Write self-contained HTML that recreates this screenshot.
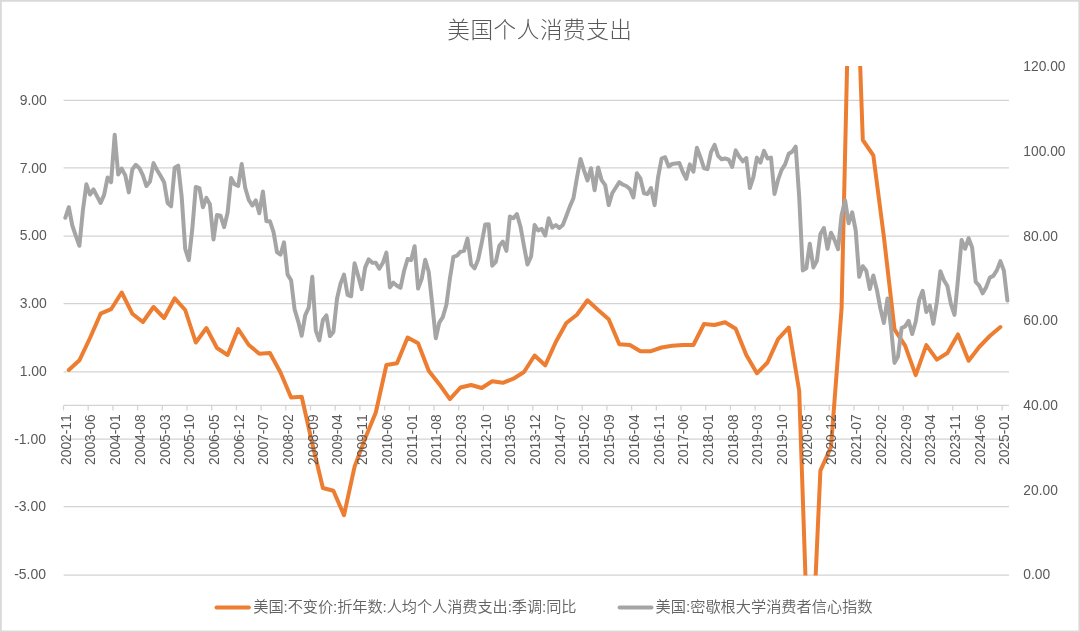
<!DOCTYPE html>
<html lang="zh-CN"><head><meta charset="utf-8"><title>美国个人消费支出</title>
<style>
html,body{margin:0;padding:0;background:#fff;}
body{width:1080px;height:632px;overflow:hidden;position:relative;font-family:"Liberation Sans","Noto Sans CJK SC",sans-serif;}
svg{display:block;position:absolute;left:0;top:0;}
.t{fill:#595959;}
.ax{font-family:"Liberation Sans","Noto Sans CJK SC",sans-serif;font-size:15.1px;font-kerning:none;fill:#595959;}
.xl{font-family:"Liberation Sans","Noto Sans CJK SC",sans-serif;font-size:13.8px;font-kerning:none;fill:#595959;}
.lg{font-family:"Liberation Sans","Noto Sans CJK SC",sans-serif;font-size:15.2px;font-weight:350;fill:#636363;}
.ti{font-family:"Liberation Sans","Noto Sans CJK SC",sans-serif;font-size:22.6px;font-weight:300;fill:#595959;}
</style></head><body>
<svg width="1080" height="632" viewBox="0 0 1080 632">
<rect x="0" y="0" width="1080" height="632" fill="#fff"/>
<path d="M0 0H1080V632H0Z M1.8 1.8V630.4H1078.4V1.8Z" fill="#d9d9d9" fill-rule="evenodd"/>
<text class="ti" x="539.9" y="38.0" text-anchor="middle" letter-spacing="0.55">美国个人消费支出</text>
<g stroke="#d3d3d3" stroke-width="1.25" fill="none">
<line x1="63.6" y1="100.40" x2="1009.0" y2="100.40"/>
<line x1="63.6" y1="167.90" x2="1009.0" y2="167.90"/>
<line x1="63.6" y1="236.00" x2="1009.0" y2="236.00"/>
<line x1="63.6" y1="303.50" x2="1009.0" y2="303.50"/>
<line x1="63.6" y1="371.80" x2="1009.0" y2="371.80"/>
<line x1="63.6" y1="439.00" x2="1009.0" y2="439.00"/>
<line x1="63.6" y1="506.70" x2="1009.0" y2="506.70"/>
<line x1="63.6" y1="575.00" x2="1009.0" y2="575.00"/>
</g>
<g stroke="#d3d3d3" stroke-width="1.25" fill="none">
<line x1="63.6" y1="405.40" x2="1009.0" y2="405.40"/>
<line x1="63.50" y1="405.40" x2="63.50" y2="410.40"/>
<line x1="88.20" y1="405.40" x2="88.20" y2="410.40"/>
<line x1="112.90" y1="405.40" x2="112.90" y2="410.40"/>
<line x1="137.60" y1="405.40" x2="137.60" y2="410.40"/>
<line x1="162.30" y1="405.40" x2="162.30" y2="410.40"/>
<line x1="187.01" y1="405.40" x2="187.01" y2="410.40"/>
<line x1="211.71" y1="405.40" x2="211.71" y2="410.40"/>
<line x1="236.41" y1="405.40" x2="236.41" y2="410.40"/>
<line x1="261.11" y1="405.40" x2="261.11" y2="410.40"/>
<line x1="285.81" y1="405.40" x2="285.81" y2="410.40"/>
<line x1="310.51" y1="405.40" x2="310.51" y2="410.40"/>
<line x1="335.21" y1="405.40" x2="335.21" y2="410.40"/>
<line x1="359.91" y1="405.40" x2="359.91" y2="410.40"/>
<line x1="384.61" y1="405.40" x2="384.61" y2="410.40"/>
<line x1="409.32" y1="405.40" x2="409.32" y2="410.40"/>
<line x1="434.02" y1="405.40" x2="434.02" y2="410.40"/>
<line x1="458.72" y1="405.40" x2="458.72" y2="410.40"/>
<line x1="483.42" y1="405.40" x2="483.42" y2="410.40"/>
<line x1="508.12" y1="405.40" x2="508.12" y2="410.40"/>
<line x1="532.82" y1="405.40" x2="532.82" y2="410.40"/>
<line x1="557.52" y1="405.40" x2="557.52" y2="410.40"/>
<line x1="582.22" y1="405.40" x2="582.22" y2="410.40"/>
<line x1="606.92" y1="405.40" x2="606.92" y2="410.40"/>
<line x1="631.63" y1="405.40" x2="631.63" y2="410.40"/>
<line x1="656.33" y1="405.40" x2="656.33" y2="410.40"/>
<line x1="681.03" y1="405.40" x2="681.03" y2="410.40"/>
<line x1="705.73" y1="405.40" x2="705.73" y2="410.40"/>
<line x1="730.43" y1="405.40" x2="730.43" y2="410.40"/>
<line x1="755.13" y1="405.40" x2="755.13" y2="410.40"/>
<line x1="779.83" y1="405.40" x2="779.83" y2="410.40"/>
<line x1="804.53" y1="405.40" x2="804.53" y2="410.40"/>
<line x1="829.23" y1="405.40" x2="829.23" y2="410.40"/>
<line x1="853.94" y1="405.40" x2="853.94" y2="410.40"/>
<line x1="878.64" y1="405.40" x2="878.64" y2="410.40"/>
<line x1="903.34" y1="405.40" x2="903.34" y2="410.40"/>
<line x1="928.04" y1="405.40" x2="928.04" y2="410.40"/>
<line x1="952.74" y1="405.40" x2="952.74" y2="410.40"/>
<line x1="977.44" y1="405.40" x2="977.44" y2="410.40"/>
<line x1="1002.14" y1="405.40" x2="1002.14" y2="410.40"/>
</g>
<defs><clipPath id="pc"><rect x="60" y="66" width="952" height="509.5"/></clipPath></defs>
<g clip-path="url(#pc)" fill="none" stroke-width="4" stroke-linejoin="round" stroke-linecap="round">
<path stroke="#ed7d31" d="M68.8 370.0 L79.4 360.3 L90.0 338.0 L100.6 313.7 L111.1 309.2 L121.7 292.5 L132.3 313.7 L142.9 322.0 L153.5 307.0 L164.1 318.0 L174.7 298.3 L185.2 310.0 L195.8 342.5 L206.4 328.0 L217.0 348.0 L227.6 355.0 L238.2 329.0 L248.8 345.0 L259.3 353.7 L269.9 353.0 L280.5 372.5 L291.1 397.5 L301.7 396.7 L312.3 443.8 L322.9 488.0 L333.4 490.8 L344.0 515.2 L354.6 466.6 L365.2 438.3 L375.8 412.5 L386.4 365.0 L397.0 363.3 L407.6 337.5 L418.1 343.3 L428.7 370.8 L439.3 384.2 L449.9 399.2 L460.5 387.5 L471.1 385.0 L481.7 388.0 L492.2 381.3 L502.8 382.8 L513.4 378.7 L524.0 372.0 L534.6 355.5 L545.2 365.3 L555.8 342.0 L566.3 323.0 L576.9 314.7 L587.5 300.3 L598.1 310.0 L608.7 319.2 L619.3 344.2 L629.9 345.0 L640.4 351.2 L651.0 351.2 L661.6 347.5 L672.2 345.8 L682.8 345.0 L693.4 345.0 L704.0 324.0 L714.6 325.0 L725.1 322.2 L735.7 328.7 L746.3 355.0 L756.9 373.3 L767.5 362.5 L778.1 339.2 L788.7 327.5 L799.2 391.0 L809.8 705.0 L820.4 470.6 L831.0 447.0 L841.6 308.0 L852.2 -160.0 L862.8 140.0 L873.3 155.3 L883.9 237.0 L894.5 329.3 L905.1 345.6 L915.7 375.2 L926.3 345.1 L936.9 359.6 L947.4 353.0 L958.0 334.4 L968.6 360.8 L979.2 347.0 L989.8 336.0 L1000.4 327.0"/>
<path stroke="#a5a5a5" d="M65.3 217.8 L68.8 207.2 L72.3 225.5 L75.9 236.1 L79.4 245.8 L82.9 210.2 L86.4 184.3 L90.0 194.5 L93.5 189.4 L97.0 196.2 L100.6 203.0 L104.1 194.9 L107.6 177.5 L111.1 182.2 L114.7 134.7 L118.2 174.6 L121.7 168.6 L125.3 175.4 L128.8 192.4 L132.3 169.5 L135.8 164.8 L139.4 168.2 L142.9 175.4 L146.4 186.0 L150.0 181.4 L153.5 163.1 L157.0 169.9 L160.5 175.8 L164.1 182.2 L167.6 203.0 L171.1 206.4 L174.7 167.8 L178.2 165.7 L181.7 197.0 L185.2 248.8 L188.8 260.2 L192.3 228.8 L195.8 186.9 L199.4 188.1 L202.9 207.2 L206.4 197.9 L209.9 204.3 L213.5 239.5 L217.0 214.9 L220.5 215.7 L224.1 227.2 L227.6 212.7 L231.1 178.0 L234.6 184.3 L238.2 186.0 L241.7 164.0 L245.2 187.7 L248.8 200.0 L252.3 205.5 L255.8 200.4 L259.3 213.2 L262.9 191.5 L266.4 221.2 L269.9 221.2 L273.5 231.8 L277.0 252.2 L280.5 254.7 L284.0 242.4 L287.6 274.6 L291.1 280.2 L294.6 309.4 L298.2 321.3 L301.7 335.7 L305.2 315.4 L308.7 307.7 L312.3 276.8 L315.8 330.6 L319.3 340.4 L322.9 320.0 L326.4 315.4 L329.9 336.1 L333.4 331.9 L337.0 298.8 L340.5 283.6 L344.0 274.6 L347.6 295.0 L351.1 296.3 L354.6 263.2 L358.1 275.5 L361.7 289.1 L365.2 267.4 L368.7 259.4 L372.3 262.8 L375.8 262.8 L379.3 268.7 L382.9 262.8 L386.4 252.6 L389.9 287.4 L393.4 282.7 L397.0 285.7 L400.5 287.8 L404.0 271.3 L407.6 259.0 L411.1 260.2 L414.6 246.2 L418.1 288.6 L421.7 278.9 L425.2 259.8 L428.7 271.7 L432.3 304.8 L435.8 338.3 L439.3 322.6 L442.8 317.1 L446.4 304.8 L449.9 278.5 L453.4 256.8 L457.0 255.6 L460.5 251.7 L464.0 250.9 L467.5 238.6 L471.1 264.5 L474.6 268.3 L478.1 259.8 L481.7 242.8 L485.2 224.6 L488.7 224.2 L492.2 265.7 L495.8 261.9 L499.3 245.8 L502.8 241.6 L506.4 250.9 L509.9 216.5 L513.4 218.2 L516.9 214.0 L520.5 226.7 L524.0 246.2 L527.5 264.5 L531.1 256.4 L534.6 225.0 L538.1 230.5 L541.6 228.8 L545.2 235.6 L548.7 218.2 L552.2 227.6 L555.8 225.0 L559.3 228.0 L562.8 225.0 L566.3 216.1 L569.9 206.4 L573.4 198.3 L576.9 178.0 L580.5 158.9 L584.0 170.3 L587.5 180.5 L591.0 168.2 L594.6 190.3 L598.1 167.4 L601.6 180.1 L605.2 185.2 L608.7 205.1 L612.2 193.2 L615.7 187.7 L619.3 182.2 L622.8 184.7 L626.3 186.0 L629.9 189.0 L633.4 197.5 L636.9 173.3 L640.4 178.4 L644.0 193.2 L647.5 194.1 L651.0 188.1 L654.6 205.1 L658.1 177.1 L661.6 158.5 L665.1 157.2 L668.7 166.5 L672.2 164.0 L675.7 163.5 L679.3 163.1 L682.8 172.0 L686.3 178.8 L689.8 164.4 L693.4 171.6 L696.9 147.8 L700.4 157.2 L704.0 168.2 L707.5 169.1 L711.0 152.1 L714.6 144.9 L718.1 155.9 L721.6 159.3 L725.1 158.5 L728.7 159.7 L732.2 166.9 L735.7 150.4 L739.3 156.8 L742.8 161.4 L746.3 158.0 L749.8 188.1 L753.4 177.1 L756.9 157.6 L760.4 162.7 L764.0 150.8 L767.5 158.5 L771.0 157.6 L774.5 194.1 L778.1 179.7 L781.6 169.9 L785.1 164.4 L788.7 153.8 L792.2 151.7 L795.7 146.6 L799.2 197.0 L802.8 270.4 L806.3 268.3 L809.8 243.7 L813.4 267.4 L816.9 260.7 L820.4 233.9 L823.9 228.0 L827.5 248.8 L831.0 232.7 L834.5 239.9 L838.1 249.2 L841.6 214.9 L845.1 200.4 L848.6 223.3 L852.2 212.3 L855.7 230.5 L859.2 276.8 L862.8 266.2 L866.3 270.8 L869.8 289.1 L873.3 275.5 L876.9 289.9 L880.4 308.6 L883.9 323.0 L887.5 298.4 L891.0 327.2 L894.5 362.9 L898.0 356.5 L901.6 328.1 L905.1 326.4 L908.6 320.9 L912.2 334.0 L915.7 321.7 L919.2 299.7 L922.7 290.8 L926.3 312.0 L929.8 305.6 L933.3 323.8 L936.9 301.8 L940.4 271.3 L943.9 280.2 L947.4 286.1 L951.0 304.3 L954.5 314.9 L958.0 279.3 L961.6 239.9 L965.1 248.8 L968.6 238.2 L972.1 247.5 L975.7 281.9 L979.2 285.7 L982.7 293.3 L986.3 286.9 L989.8 277.6 L993.3 275.9 L996.8 270.4 L1000.4 261.1 L1003.9 270.8 L1007.4 300.5"/>
</g>
<text class="ax" transform="translate(46.9 104.7) scale(0.925 1)" text-anchor="end">9.00</text>
<text class="ax" transform="translate(46.9 172.5) scale(0.925 1)" text-anchor="end">7.00</text>
<text class="ax" transform="translate(46.9 240.3) scale(0.925 1)" text-anchor="end">5.00</text>
<text class="ax" transform="translate(46.9 308.1) scale(0.925 1)" text-anchor="end">3.00</text>
<text class="ax" transform="translate(46.9 375.9) scale(0.925 1)" text-anchor="end">1.00</text>
<text class="ax" transform="translate(46.0 443.7) scale(0.925 1)" text-anchor="end">-1.00</text>
<text class="ax" transform="translate(46.0 511.4) scale(0.925 1)" text-anchor="end">-3.00</text>
<text class="ax" transform="translate(46.0 579.2) scale(0.925 1)" text-anchor="end">-5.00</text>
<text class="ax" transform="translate(1023.3 71.2) scale(0.915 1)">120.00</text>
<text class="ax" transform="translate(1023.3 155.9) scale(0.915 1)">100.00</text>
<text class="ax" transform="translate(1023.3 240.5) scale(0.915 1)">80.00</text>
<text class="ax" transform="translate(1023.3 325.2) scale(0.915 1)">60.00</text>
<text class="ax" transform="translate(1023.3 409.9) scale(0.915 1)">40.00</text>
<text class="ax" transform="translate(1023.3 494.6) scale(0.915 1)">20.00</text>
<text class="ax" transform="translate(1023.3 579.2) scale(0.915 1)">0.00</text>
<text class="xl" transform="translate(70.7 414.3) rotate(-90)" text-anchor="end">2002-11</text>
<text class="xl" transform="translate(95.4 414.3) rotate(-90)" text-anchor="end">2003-06</text>
<text class="xl" transform="translate(120.1 414.3) rotate(-90)" text-anchor="end">2004-01</text>
<text class="xl" transform="translate(144.8 414.3) rotate(-90)" text-anchor="end">2004-08</text>
<text class="xl" transform="translate(169.5 414.3) rotate(-90)" text-anchor="end">2005-03</text>
<text class="xl" transform="translate(194.2 414.3) rotate(-90)" text-anchor="end">2005-10</text>
<text class="xl" transform="translate(218.9 414.3) rotate(-90)" text-anchor="end">2006-05</text>
<text class="xl" transform="translate(243.6 414.3) rotate(-90)" text-anchor="end">2006-12</text>
<text class="xl" transform="translate(268.3 414.3) rotate(-90)" text-anchor="end">2007-07</text>
<text class="xl" transform="translate(293.0 414.3) rotate(-90)" text-anchor="end">2008-02</text>
<text class="xl" transform="translate(317.7 414.3) rotate(-90)" text-anchor="end">2008-09</text>
<text class="xl" transform="translate(342.4 414.3) rotate(-90)" text-anchor="end">2009-04</text>
<text class="xl" transform="translate(367.1 414.3) rotate(-90)" text-anchor="end">2009-11</text>
<text class="xl" transform="translate(391.8 414.3) rotate(-90)" text-anchor="end">2010-06</text>
<text class="xl" transform="translate(416.5 414.3) rotate(-90)" text-anchor="end">2011-01</text>
<text class="xl" transform="translate(441.2 414.3) rotate(-90)" text-anchor="end">2011-08</text>
<text class="xl" transform="translate(465.9 414.3) rotate(-90)" text-anchor="end">2012-03</text>
<text class="xl" transform="translate(490.6 414.3) rotate(-90)" text-anchor="end">2012-10</text>
<text class="xl" transform="translate(515.3 414.3) rotate(-90)" text-anchor="end">2013-05</text>
<text class="xl" transform="translate(540.0 414.3) rotate(-90)" text-anchor="end">2013-12</text>
<text class="xl" transform="translate(564.7 414.3) rotate(-90)" text-anchor="end">2014-07</text>
<text class="xl" transform="translate(589.4 414.3) rotate(-90)" text-anchor="end">2015-02</text>
<text class="xl" transform="translate(614.1 414.3) rotate(-90)" text-anchor="end">2015-09</text>
<text class="xl" transform="translate(638.8 414.3) rotate(-90)" text-anchor="end">2016-04</text>
<text class="xl" transform="translate(663.5 414.3) rotate(-90)" text-anchor="end">2016-11</text>
<text class="xl" transform="translate(688.2 414.3) rotate(-90)" text-anchor="end">2017-06</text>
<text class="xl" transform="translate(712.9 414.3) rotate(-90)" text-anchor="end">2018-01</text>
<text class="xl" transform="translate(737.6 414.3) rotate(-90)" text-anchor="end">2018-08</text>
<text class="xl" transform="translate(762.3 414.3) rotate(-90)" text-anchor="end">2019-03</text>
<text class="xl" transform="translate(787.0 414.3) rotate(-90)" text-anchor="end">2019-10</text>
<text class="xl" transform="translate(811.7 414.3) rotate(-90)" text-anchor="end">2020-05</text>
<text class="xl" transform="translate(836.4 414.3) rotate(-90)" text-anchor="end">2020-12</text>
<text class="xl" transform="translate(861.1 414.3) rotate(-90)" text-anchor="end">2021-07</text>
<text class="xl" transform="translate(885.8 414.3) rotate(-90)" text-anchor="end">2022-02</text>
<text class="xl" transform="translate(910.5 414.3) rotate(-90)" text-anchor="end">2022-09</text>
<text class="xl" transform="translate(935.2 414.3) rotate(-90)" text-anchor="end">2023-04</text>
<text class="xl" transform="translate(959.9 414.3) rotate(-90)" text-anchor="end">2023-11</text>
<text class="xl" transform="translate(984.6 414.3) rotate(-90)" text-anchor="end">2024-06</text>
<text class="xl" transform="translate(1009.3 414.3) rotate(-90)" text-anchor="end">2025-01</text>
<line x1="216.5" y1="607.5" x2="248.8" y2="607.5" stroke="#ed7d31" stroke-width="4" stroke-linecap="round"/>
<text class="lg" x="253.3" y="611.7" textLength="323.2" lengthAdjust="spacing">美国:不变价:折年数:人均个人消费支出:季调:同比</text>
<line x1="619.6" y1="607.5" x2="651.4" y2="607.5" stroke="#a5a5a5" stroke-width="4" stroke-linecap="round"/>
<text class="lg" x="655.6" y="611.7">美国:密歇根大学消费者信心指数</text>
</svg></body></html>
